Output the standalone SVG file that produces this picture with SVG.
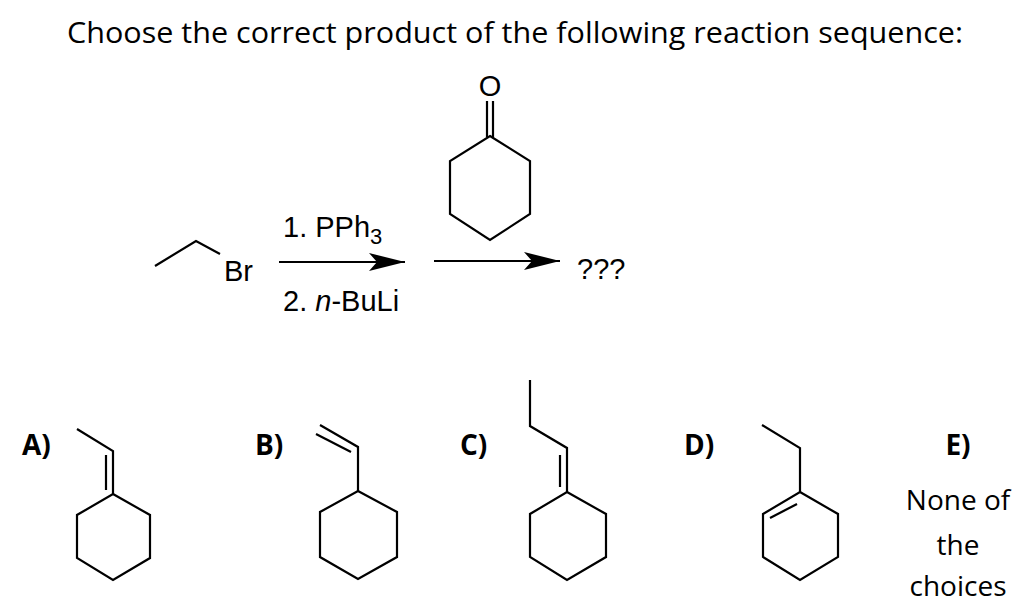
<svg xmlns="http://www.w3.org/2000/svg" width="1024" height="606" viewBox="0 0 1024 606">
<style>
.b{fill:none;stroke:#000;stroke-width:2.2;stroke-linejoin:miter}
.c{font-family:"Open Sans","Liberation Sans",sans-serif;fill:#000}
.lbl{font-family:"Open Sans","Liberation Sans",sans-serif;font-weight:bold;font-size:28px;fill:#000}
.a{font-family:"Liberation Sans",Arial,sans-serif;fill:#000;font-size:29px}
</style>
<defs><marker id="h" markerWidth="36" markerHeight="18" refX="36" refY="9" orient="auto" markerUnits="userSpaceOnUse"><path d="M0,0 L36,9 L0,18 L8,9Z" fill="#000"/></marker></defs>
<rect width="1024" height="606" fill="#fff"/>
<text class="c" x="67" y="43" font-size="30" textLength="896" lengthAdjust="spacingAndGlyphs">Choose the correct product of the following reaction sequence:</text>
<g id="ethylbromide"><polyline class="b" points="155,266 196,241 220,254"/><text class="a" x="224" y="281">Br</text></g>
<g id="reagents"><text class="a" x="283" y="237">1. PPh<tspan font-size="22" dy="7">3</tspan></text><text class="a" x="283" y="311">2. <tspan font-style="italic">n</tspan>-BuLi</text></g>
<g id="cyclohexanone"><text class="a" x="490" y="96" text-anchor="middle" font-size="29">O</text><line class="b" x1="487" y1="101" x2="487" y2="137"/><line class="b" x1="493" y1="101" x2="493" y2="137"/><polygon class="b" points="490,136 530,161 530,214 490,240 450,214 450,161"/></g>
<g id="product"><text class="a" x="577" y="279">???</text></g>
<g id="connectors"><line class="b" x1="279" y1="262" x2="405" y2="262" marker-end="url(#h)"/><line class="b" x1="434" y1="261" x2="560" y2="261" marker-end="url(#h)"/></g>
<g id="A"><text class="lbl" x="22" y="455">A)</text><polyline class="b" points="77,429 113,451 113,494"/><line class="b" x1="106" y1="455" x2="106" y2="490"/><polygon class="b" points="113,494 150,515 150,558 113,580 77,558 77,515"/></g>
<g id="B"><text class="lbl" x="255" y="455">B)</text><polyline class="b" points="320,425 358,447 358,491"/><line class="b" x1="316" y1="434" x2="351" y2="452"/><polygon class="b" points="358,491 397,512 397,557 358,579 320,557 320,512"/></g>
<g id="C"><text class="lbl" x="460" y="455">C)</text><polyline class="b" points="530,380 530,426 567,448 567,492"/><line class="b" x1="560" y1="455" x2="560" y2="487"/><polygon class="b" points="567,492 606,514 606,557 567,580 530,557 530,514"/></g>
<g id="D"><text class="lbl" x="684" y="455">D)</text><polyline class="b" points="762,425 800,448 800,492"/><polygon class="b" points="800,492 838,514 838,557 800,580 763,557 763,514"/><line class="b" x1="770" y1="518" x2="797" y2="504"/></g>
<g id="E"><text class="lbl" x="958" y="455" text-anchor="middle">E)</text><text class="c" font-size="28" text-anchor="middle" x="958" y="510">None of</text><text class="c" font-size="28" text-anchor="middle" x="958" y="555">the</text><text class="c" font-size="28" text-anchor="middle" x="958" y="596">choices</text></g>
</svg>
